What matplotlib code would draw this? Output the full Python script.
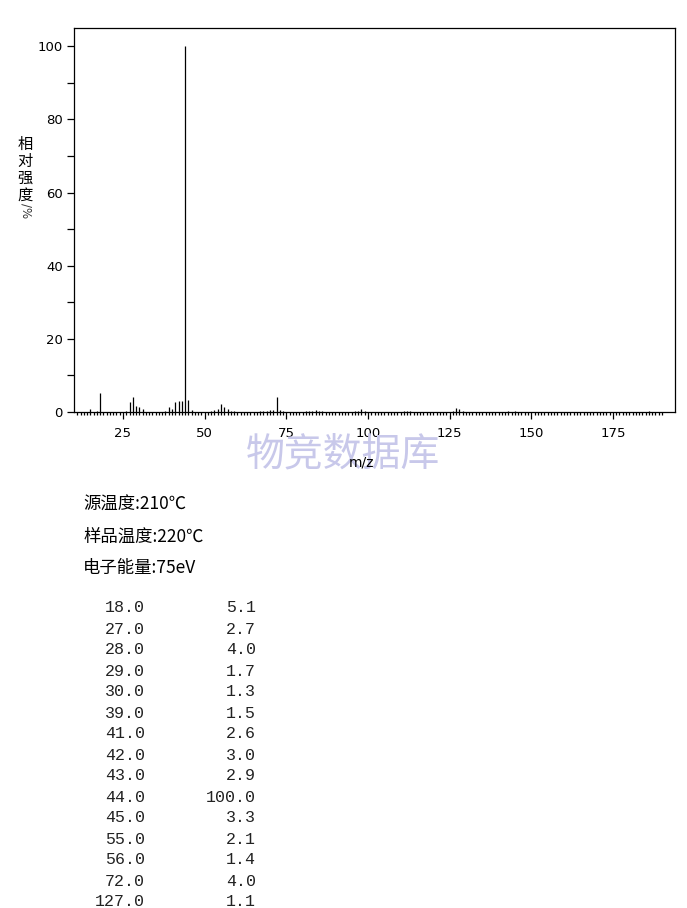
import matplotlib

matplotlib.use("Agg")
import matplotlib.pyplot as plt
from matplotlib.ticker import FixedLocator

# listed peaks (m/z, relative intensity %)
PEAK_MZ = [18, 27, 28, 29, 30, 39, 41, 42, 43, 44, 45, 55, 56, 72, 127]
PEAK_INT = [5.1, 2.7, 4.0, 1.7, 1.3, 1.5, 2.6, 3.0, 2.9, 100.0, 3.3, 2.1, 1.4, 4.0, 1.1]

# small unlisted peaks (estimates)
MINOR_MZ = [15, 17, 26, 31, 38, 40, 46, 52, 53, 54, 57, 58, 59, 67, 68, 69, 70, 71, 73, 74,
            81, 82, 83, 84, 85, 86, 96, 97, 98, 99, 111, 112, 113, 126, 128, 129, 143, 145, 186]
MINOR_INT = [0.7, 0.3, 0.3, 0.7, 0.3, 0.7, 0.5, 0.4, 0.5, 0.7, 0.8, 0.4, 0.3, 0.3, 0.4, 0.4, 0.5, 0.5, 0.5, 0.3,
             0.3, 0.3, 0.4, 0.5, 0.4, 0.3, 0.3, 0.4, 0.9, 0.4, 0.3, 0.3, 0.3, 0.3, 0.8, 0.3, 0.3, 0.3, 0.3]

CONDITIONS = ["源温度:210℃", "样品温度:220℃", "电子能量:75eV"]

W, H = 687, 908
fig = plt.figure(figsize=(W / 100, H / 100), dpi=100)
ax = fig.add_axes([74 / W, 1 - 412 / H, (675 - 74) / W, (412 - 28) / H])

ax.vlines(PEAK_MZ + MINOR_MZ, 0, PEAK_INT + MINOR_INT, color="black", linewidth=0.9)
ax.set_xlim(10, 194)
ax.set_ylim(0, 105)

for side in ["left", "right", "top", "bottom"]:
    ax.spines[side].set_linewidth(0.9)

ax.xaxis.set_major_locator(FixedLocator([25, 50, 75, 100, 125, 150, 175]))
ax.xaxis.set_minor_locator(FixedLocator(list(range(11, 191))))
ax.tick_params(axis="x", which="major", length=5, width=0.9, pad=6, labelsize=9.5)
ax.tick_params(axis="x", which="minor", length=2.5, width=0.9)
ax.yaxis.set_major_locator(FixedLocator([0, 20, 40, 60, 80, 100]))
ax.yaxis.set_minor_locator(FixedLocator([10, 30, 50, 70, 90]))
ax.tick_params(axis="y", which="both", length=5, width=0.9, pad=3, labelsize=9.5)

cjk = ["Noto Sans CJK SC", "DejaVu Sans"]

# stacked vertical y label
fig.text(25 / W, 1 - 170 / H, "相\n对\n强\n度", family=cjk, fontsize=11,
         ha="center", va="center", linespacing=1.0)
fig.text(26 / W, 1 - 211 / H, "/%", fontsize=8.5, rotation=-90,
         ha="center", va="center", color="#333333")

# watermark and x label
fig.text(343 / W, 1 - 456 / H, "物竞数据库", family=cjk, fontsize=28,
         color="#c8c8ea", ha="center", va="center")
fig.text(362 / W, 1 - 463 / H, "m/z", fontsize=10, ha="center", va="center")

for i, line in enumerate(CONDITIONS):
    fig.text(83 / W, 1 - (505 + i * 31.5) / H, line, family=cjk, fontsize=12.5,
             ha="left", va="center")

for i, (mz, inten) in enumerate(zip(PEAK_MZ, PEAK_INT)):
    y = 1 - (608 + i * 21) / H
    fig.text(145 / W, y, f"{mz:.1f}", family="Liberation Mono", fontsize=12,
             color="#222222", ha="right", va="center")
    fig.text(256 / W, y, f"{inten:.1f}", family="Liberation Mono", fontsize=12,
             color="#222222", ha="right", va="center")

fig.savefig("out.png", dpi=100)
